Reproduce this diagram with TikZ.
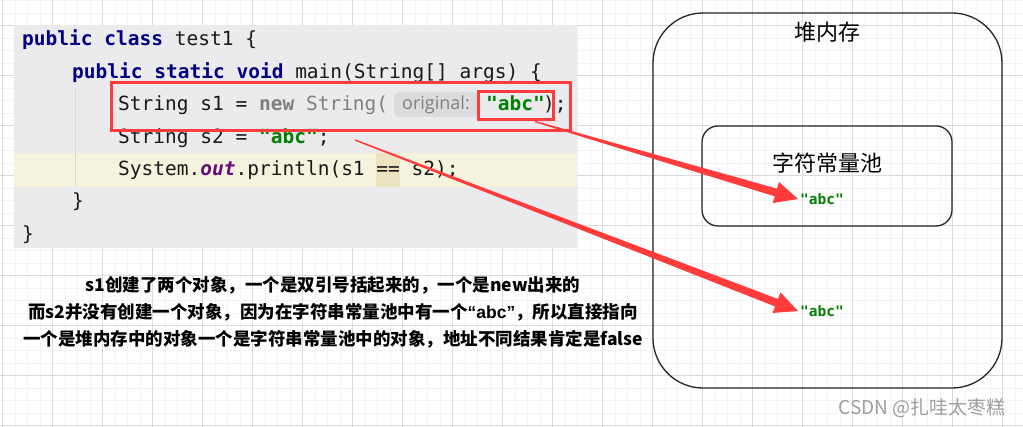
\documentclass[tikz,border=0pt]{standalone}
\usepackage{fontspec}
\usepackage{tikz}
\usetikzlibrary{calc,positioning}
\newfontfamily\cjk{Noto Sans CJK SC}
\newfontfamily\codefont{DejaVu Sans Mono}
\newfontfamily\hintfont{Open Sans}
\newfontfamily\latinsans{Liberation Sans}
\definecolor{kwblue}{RGB}{0,0,128}
\definecolor{strgreen}{RGB}{0,128,0}
\definecolor{fieldpurple}{RGB}{102,14,122}
\definecolor{dimgrey}{RGB}{128,128,128}
\definecolor{codeblack}{RGB}{25,25,25}
\definecolor{alertred}{RGB}{255,59,59}
\definecolor{codebg}{RGB}{235,235,238}
\definecolor{caretrow}{RGB}{245,242,222}
\definecolor{matchbg}{RGB}{236,228,192}
\definecolor{hintbg}{RGB}{220,220,223}
\definecolor{hinttext}{RGB}{128,128,128}
\definecolor{gridminor}{RGB}{243,243,243}
\definecolor{gridmajor}{RGB}{218,218,218}
\newcommand{\kw}[1]{\textcolor{kwblue}{\textbf{#1}}}
\newcommand{\strlit}[1]{\textcolor{strgreen}{\textbf{#1}}}
\newcommand{\redarrow}[2]{%
  \coordinate (tb) at ($(#2)!23pt!(#1)$);
  \fill[alertred] ($(#1)!0.7pt!90:(#2)$) -- ($(tb)!4pt!90:(#2)$) -- ($(tb)!11pt!90:(#2)$) -- (#2)
    -- ($(tb)!11pt!-90:(#2)$) -- ($(tb)!4pt!-90:(#2)$) -- ($(#1)!0.7pt!-90:(#2)$) -- cycle;}

\begin{document}
\begin{tikzpicture}[x=1pt,y=-1pt,
  code/.style={font=\codefont\fontsize{19.5}{22}\selectfont, text=codeblack, inner sep=0pt, anchor=base west},
  redbox/.style={draw=alertred, line width=3pt, inner sep=0pt},
  hint/.style={fill=hintbg, rounded corners=6pt, text=hinttext, inner sep=0pt, font=\hintfont\fontsize{18}{20}\selectfont},
  heapbox/.style={draw=black!85, line width=1.3pt, rounded corners=50pt},
  poolbox/.style={draw=black!85, line width=1.3pt, rounded corners=16pt},
  cjklabel/.style={font=\cjk\fontsize{22}{26}\selectfont},
  abclit/.style={font=\codefont\bfseries\fontsize{14.5}{17}\selectfont, text=strgreen, inner sep=2pt, text height=11pt, text depth=0pt},
  note/.style={font=\cjk\bfseries\fontsize{17.5}{27}\selectfont, align=center, inner sep=0pt}]
\useasboundingbox (0,0) rectangle (1023,427);
\clip (0,0) rectangle (1023,427);
\fill[white] (0,0) rectangle (1023,427);
\foreach \gx in {2.5,15,...,1022.5} \draw[gridminor] (\gx,0) -- (\gx,427);
\foreach \gy in {0.5,13,...,425.5} \draw[gridminor] (0,\gy) -- (1023,\gy);
\foreach \gx in {2.5,52.5,...,1002.5} \draw[gridmajor] (\gx,0) -- (\gx,427);
\foreach \gy in {25.5,75.5,...,425.5} \draw[gridmajor] (0,\gy) -- (1023,\gy);

\fill[codebg] (14,25) rectangle (577,248);
\fill[caretrow] (14,153) rectangle (577,187);
\fill[matchbg] (376,153) rectangle (400,187);
\draw[black!15] (75,88) -- (75,186);

\node[code] (lineA) at (22,46) {\kw{public} \kw{class} test1 \{};
\node[code] (lineB) at (72,78.5) {\kw{public} \kw{static} \kw{void} main(String[] args) \{};
\node[code] (lineC) at (118,111) {String s1 = \textcolor{dimgrey}{\textbf{new} String(}};
\node[hint, minimum width=84pt, minimum height=25pt] (hint) at (436,104.5) {original:};
\node[redbox, minimum width=75pt, minimum height=28pt, text height=14pt, text depth=4pt, font=\codefont\fontsize{19.5}{22}\selectfont] (origabc) at (515.5,106) {\strlit{"abc"}};
\node[code] (lineCend) at (543,111) {);};
\node[code] (lineD) at (118,143.5) {String s2 = \strlit{"abc"};};
\node[code] (lineE) at (118,176) {System.\textcolor{fieldpurple}{\textbf{\textit{out}}}.println(s1 == s2);};
\node[code] (lineF) at (72,208) {\}};
\node[code] (lineG) at (22,240.5) {\}};
\node[redbox, minimum width=459pt, minimum height=48pt] (s1line) at (340.5,107) {};

\node[heapbox, minimum width=349pt, minimum height=375pt] (heap) at (827.5,200.5) {};
\node[cjklabel] (heaplabel) at (827,32) {堆内存};
\node[poolbox, minimum width=250pt, minimum height=100pt] (pool) at (827,176) {};
\node[cjklabel] (poollabel) at (827,163) {字符常量池};
\node[abclit] (poolabc) at (822,199) {"abc"};
\node[abclit] (heapabc) at (822,311) {"abc"};

\coordinate (s1src) at ($(origabc.south)!0.5!(origabc.south east)$);
\coordinate (s2src) at (355,140);
\redarrow{s1src}{poolabc.west}
\redarrow{s2src}{heapabc.west}

\node[note] (note) at (333,312.5) {s1创建了两个对象，一个是双引号括起来的，一个是new出来的\\
  而s2并没有创建一个对象，因为在字符串常量池中有一个{\latinsans\bfseries “abc”}，所以直接指向\\
  一个是堆内存中的对象一个是字符串常量池中的对象，地址不同结果肯定是false};
\node[font=\cjk\fontsize{19}{22}\selectfont, text=black!38, inner sep=0pt] (mark) at (922,408) {CSDN @扎哇太枣糕};
\end{tikzpicture}
\end{document}
